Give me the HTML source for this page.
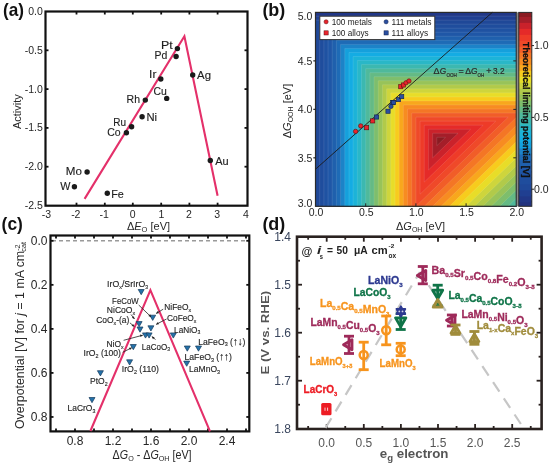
<!DOCTYPE html><html><head><meta charset="utf-8"><style>html,body{margin:0;padding:0;background:#fff;}svg{display:block;filter:blur(0.3px);}</style></head><body>
<svg width="550" height="467" viewBox="0 0 550 467" font-family='"Liberation Sans", sans-serif'>
<rect width="550" height="467" fill="#fff"/>
<defs><clipPath id="cb"><rect x="315.50" y="12.40" width="200.80" height="193.90"/></clipPath></defs>
<g clip-path="url(#cb)">
<rect x="315.5" y="12.4" width="200.79999999999995" height="193.9" fill="#223583"/>
<polygon points="307.13,12.08 307.13,521.39 834.57,12.08" fill="#213787" stroke="rgba(255,255,255,0.16)" stroke-width="0.7"/>
<polygon points="311.32,16.12 311.32,509.27 822.02,16.12" fill="#203f91" stroke="rgba(255,255,255,0.16)" stroke-width="0.7"/>
<polygon points="315.50,20.16 315.50,497.15 809.47,20.16" fill="#1f4898" stroke="rgba(255,255,255,0.16)" stroke-width="0.7"/>
<polygon points="319.68,24.20 319.68,485.03 796.92,24.20" fill="#1f4d9d" stroke="rgba(255,255,255,0.16)" stroke-width="0.7"/>
<polygon points="323.87,28.24 323.87,472.91 784.37,28.24" fill="#1f52a2" stroke="rgba(255,255,255,0.16)" stroke-width="0.7"/>
<polygon points="328.05,32.27 328.05,460.79 771.82,32.27" fill="#1f57a7" stroke="rgba(255,255,255,0.16)" stroke-width="0.7"/>
<polygon points="332.23,36.31 332.23,448.68 759.27,36.31" fill="#1f60ad" stroke="rgba(255,255,255,0.16)" stroke-width="0.7"/>
<polygon points="336.42,40.35 336.42,436.56 746.72,40.35" fill="#1e6bb6" stroke="rgba(255,255,255,0.16)" stroke-width="0.7"/>
<polygon points="340.60,44.39 340.60,424.44 734.17,44.39" fill="#1c83c8" stroke="rgba(255,255,255,0.16)" stroke-width="0.7"/>
<polygon points="344.78,48.43 344.78,412.32 721.62,48.43" fill="#15a0dc" stroke="rgba(255,255,255,0.16)" stroke-width="0.7"/>
<polygon points="348.97,52.47 348.97,400.20 709.07,52.47" fill="#14ace3" stroke="rgba(255,255,255,0.16)" stroke-width="0.7"/>
<polygon points="353.15,56.51 353.15,388.08 696.52,56.51" fill="#1cb3d8" stroke="rgba(255,255,255,0.16)" stroke-width="0.7"/>
<polygon points="357.33,60.55 357.33,375.96 683.97,60.55" fill="#2ab7c7" stroke="rgba(255,255,255,0.16)" stroke-width="0.7"/>
<polygon points="361.52,64.59 361.52,363.84 671.42,64.59" fill="#3cb8b0" stroke="rgba(255,255,255,0.16)" stroke-width="0.7"/>
<polygon points="365.70,68.63 365.70,351.73 658.87,68.63" fill="#4fb99b" stroke="rgba(255,255,255,0.16)" stroke-width="0.7"/>
<polygon points="369.88,72.67 369.88,339.61 646.32,72.67" fill="#64ba85" stroke="rgba(255,255,255,0.16)" stroke-width="0.7"/>
<polygon points="374.07,76.71 374.07,327.49 633.77,76.71" fill="#7ebe6c" stroke="rgba(255,255,255,0.16)" stroke-width="0.7"/>
<polygon points="378.25,80.75 378.25,315.37 621.22,80.75" fill="#98c359" stroke="rgba(255,255,255,0.16)" stroke-width="0.7"/>
<polygon points="382.43,84.79 382.43,303.25 608.67,84.79" fill="#b1ca4a" stroke="rgba(255,255,255,0.16)" stroke-width="0.7"/>
<polygon points="386.62,88.83 386.62,291.13 596.12,88.83" fill="#ced53c" stroke="rgba(255,255,255,0.16)" stroke-width="0.7"/>
<polygon points="390.80,92.87 390.80,279.01 583.57,92.87" fill="#e8dd28" stroke="rgba(255,255,255,0.16)" stroke-width="0.7"/>
<polygon points="394.98,96.91 394.98,266.89 571.02,96.91" fill="#f7cc1d" stroke="rgba(255,255,255,0.16)" stroke-width="0.7"/>
<polygon points="399.17,100.95 399.17,254.78 558.47,100.95" fill="#f8a71d" stroke="rgba(255,255,255,0.16)" stroke-width="0.7"/>
<polygon points="403.35,104.99 403.35,242.66 545.92,104.99" fill="#f78c21" stroke="rgba(255,255,255,0.16)" stroke-width="0.7"/>
<polygon points="407.53,109.03 407.53,230.54 533.37,109.03" fill="#f47625" stroke="rgba(255,255,255,0.16)" stroke-width="0.7"/>
<polygon points="411.72,113.07 411.72,218.42 520.82,113.07" fill="#f15d28" stroke="rgba(255,255,255,0.16)" stroke-width="0.7"/>
<polygon points="415.90,117.11 415.90,206.30 508.27,117.11" fill="#ef4929" stroke="rgba(255,255,255,0.16)" stroke-width="0.7"/>
<polygon points="420.08,121.15 420.08,194.18 495.72,121.15" fill="#ee3b28" stroke="rgba(255,255,255,0.16)" stroke-width="0.7"/>
<polygon points="424.27,125.19 424.27,182.06 483.17,125.19" fill="#e52a29" stroke="rgba(255,255,255,0.16)" stroke-width="0.7"/>
<polygon points="428.45,129.22 428.45,169.94 470.62,129.22" fill="#ca222b" stroke="rgba(255,255,255,0.16)" stroke-width="0.7"/>
<polygon points="432.63,133.26 432.63,157.83 458.07,133.26" fill="#a41e29" stroke="rgba(255,255,255,0.16)" stroke-width="0.7"/>
<polygon points="436.82,137.30 436.82,145.71 445.52,137.30" fill="#8a1b22" stroke="rgba(255,255,255,0.16)" stroke-width="0.7"/>
</g>
<rect x="315.5" y="12.4" width="200.79999999999995" height="193.9" fill="none" stroke="#2a2a2a" stroke-width="1.2"/>
<line x1="315.5" y1="169.2" x2="492.3" y2="12.4" stroke="#1a1a1a" stroke-width="0.9"/>
<rect x="364.5" y="125.60000000000001" width="4.2" height="4.2" fill="#e8242c" stroke="#5a1010" stroke-width="0.6"/>
<rect x="370.59999999999997" y="118.80000000000001" width="4.2" height="4.2" fill="#e8242c" stroke="#5a1010" stroke-width="0.6"/>
<rect x="398.7" y="84.60000000000001" width="4.2" height="4.2" fill="#e8242c" stroke="#5a1010" stroke-width="0.6"/>
<rect x="401.29999999999995" y="82.9" width="4.2" height="4.2" fill="#e8242c" stroke="#5a1010" stroke-width="0.6"/>
<rect x="374.5" y="114.9" width="4.2" height="4.2" fill="#2a4ea0" stroke="#10204a" stroke-width="0.6"/>
<rect x="385.9" y="109.10000000000001" width="4.2" height="4.2" fill="#2a4ea0" stroke="#10204a" stroke-width="0.6"/>
<rect x="390.59999999999997" y="100.60000000000001" width="4.2" height="4.2" fill="#2a4ea0" stroke="#10204a" stroke-width="0.6"/>
<rect x="391.5" y="100.30000000000001" width="4.2" height="4.2" fill="#2a4ea0" stroke="#10204a" stroke-width="0.6"/>
<rect x="396.4" y="97.5" width="4.2" height="4.2" fill="#2a4ea0" stroke="#10204a" stroke-width="0.6"/>
<rect x="399.59999999999997" y="94.5" width="4.2" height="4.2" fill="#2a4ea0" stroke="#10204a" stroke-width="0.6"/>
<circle cx="355.6" cy="131.4" r="2.2" fill="#e8242c" stroke="#5a1010" stroke-width="0.6"/>
<circle cx="360.7" cy="125.9" r="2.2" fill="#e8242c" stroke="#5a1010" stroke-width="0.6"/>
<circle cx="406" cy="82.8" r="2.2" fill="#e8242c" stroke="#5a1010" stroke-width="0.6"/>
<circle cx="409" cy="81" r="2.2" fill="#e8242c" stroke="#5a1010" stroke-width="0.6"/>
<circle cx="390.9" cy="106.4" r="2.2" fill="#2a4ea0" stroke="#10204a" stroke-width="0.6"/>
<rect x="319.8" y="16.2" width="115" height="23.4" fill="#fff" stroke="#333" stroke-width="1"/>
<circle cx="326.1" cy="21.8" r="2.1" fill="#e8242c" stroke="#5a1010" stroke-width="0.5"/>
<rect x="324" y="30.8" width="4.2" height="4.2" fill="#e8242c" stroke="#5a1010" stroke-width="0.5"/>
<circle cx="386.1" cy="21.8" r="2.1" fill="#2a4ea0" stroke="#10204a" stroke-width="0.5"/>
<rect x="384" y="30.8" width="4.2" height="4.2" fill="#2a4ea0" stroke="#10204a" stroke-width="0.5"/>
<text x="331.7" y="25" font-size="8.2" fill="#222" text-anchor="start" textLength="40.3" lengthAdjust="spacingAndGlyphs" >100 metals</text>
<text x="331.7" y="36" font-size="8.2" fill="#222" text-anchor="start" textLength="37" lengthAdjust="spacingAndGlyphs" >100 alloys</text>
<text x="391.6" y="25" font-size="8.2" fill="#222" text-anchor="start" textLength="40" lengthAdjust="spacingAndGlyphs" >111 metals</text>
<text x="391.6" y="36" font-size="8.2" fill="#222" text-anchor="start" textLength="36.5" lengthAdjust="spacingAndGlyphs" >111 alloys</text>
<text x="433.6" y="74.3" font-size="8.6" fill="#2a2a2a" stroke="#2a2a2a" stroke-width="0.2" textLength="6.0" lengthAdjust="spacingAndGlyphs">&#916;</text>
<text x="439.8" y="74.3" font-size="8.6" fill="#2a2a2a" stroke="#2a2a2a" stroke-width="0.2" font-style="italic" textLength="6.4" lengthAdjust="spacingAndGlyphs">G</text>
<text x="446.4" y="76.6" font-size="5.6" fill="#2a2a2a" stroke="#2a2a2a" stroke-width="0.2" textLength="10.4" lengthAdjust="spacingAndGlyphs">OOH</text>
<text x="458.6" y="73.8" font-size="8.6" fill="#2a2a2a" stroke="#2a2a2a" stroke-width="0.2" textLength="5.2" lengthAdjust="spacingAndGlyphs">=</text>
<text x="465.2" y="74.3" font-size="8.6" fill="#2a2a2a" stroke="#2a2a2a" stroke-width="0.2" textLength="5.8" lengthAdjust="spacingAndGlyphs">&#916;</text>
<text x="470.9" y="74.3" font-size="8.6" fill="#2a2a2a" stroke="#2a2a2a" stroke-width="0.2" font-style="italic" textLength="6.4" lengthAdjust="spacingAndGlyphs">G</text>
<text x="477.5" y="76.6" font-size="5.6" fill="#2a2a2a" stroke="#2a2a2a" stroke-width="0.2" textLength="6.6" lengthAdjust="spacingAndGlyphs">OH</text>
<text x="486.3" y="74.3" font-size="8.6" fill="#2a2a2a" stroke="#2a2a2a" stroke-width="0.2" textLength="5.2" lengthAdjust="spacingAndGlyphs">+</text>
<text x="493" y="74.3" font-size="8.6" fill="#2a2a2a" stroke="#2a2a2a" stroke-width="0.2" textLength="11.5" lengthAdjust="spacingAndGlyphs">3.2</text>
<line x1="365.7" y1="206.3" x2="365.7" y2="203.3" stroke="#222" stroke-width="1"/>
<line x1="415.9" y1="206.3" x2="415.9" y2="203.3" stroke="#222" stroke-width="1"/>
<line x1="466.09999999999997" y1="206.3" x2="466.09999999999997" y2="203.3" stroke="#222" stroke-width="1"/>
<line x1="313.3" y1="157.82500000000002" x2="315.5" y2="157.82500000000002" stroke="#222" stroke-width="1.2"/>
<line x1="516.3" y1="157.82500000000002" x2="513.3" y2="157.82500000000002" stroke="#222" stroke-width="1"/>
<line x1="313.3" y1="109.35000000000001" x2="315.5" y2="109.35000000000001" stroke="#222" stroke-width="1.2"/>
<line x1="516.3" y1="109.35000000000001" x2="513.3" y2="109.35000000000001" stroke="#222" stroke-width="1"/>
<line x1="313.3" y1="60.875" x2="315.5" y2="60.875" stroke="#222" stroke-width="1.2"/>
<line x1="516.3" y1="60.875" x2="513.3" y2="60.875" stroke="#222" stroke-width="1"/>
<text x="316.0" y="216.3" font-size="10.5" fill="#262626" text-anchor="middle" >0.0</text>
<text x="366.2" y="216.3" font-size="10.5" fill="#262626" text-anchor="middle" >0.5</text>
<text x="416.4" y="216.3" font-size="10.5" fill="#262626" text-anchor="middle" >1.0</text>
<text x="466.6" y="216.3" font-size="10.5" fill="#262626" text-anchor="middle" >1.5</text>
<text x="516.8" y="216.3" font-size="10.5" fill="#262626" text-anchor="middle" >2.0</text>
<text x="312.3" y="207.1" font-size="10.5" fill="#262626" text-anchor="end" >3.0</text>
<text x="312.3" y="161.63" font-size="10.5" fill="#262626" text-anchor="end" >3.5</text>
<text x="312.3" y="113.15" font-size="10.5" fill="#262626" text-anchor="end" >4.0</text>
<text x="312.3" y="64.67" font-size="10.5" fill="#262626" text-anchor="end" >4.5</text>
<text x="312.3" y="20.2" font-size="10.5" fill="#262626" text-anchor="end" >5.0</text>
<text x="396" y="230.3" font-size="11" fill="#262626">&#916;<tspan font-style="italic">G</tspan><tspan font-size="7" dy="2">OH</tspan><tspan dy="-2"> [eV]</tspan></text>
<text transform="translate(290.8,111) rotate(-90)" font-size="11" fill="#262626" text-anchor="middle">&#916;<tspan font-style="italic">G</tspan><tspan font-size="7" dy="2">OOH</tspan><tspan dy="-2"> [eV]</tspan></text>
<rect x="516.8" y="12.4" width="2" height="193.9" fill="#8a8a8a"/>
<rect x="518.8" y="201.17" width="13" height="5.13" fill="#22327e"/>
<rect x="518.8" y="195.18" width="13" height="7.18" fill="#213787"/>
<rect x="518.8" y="189.20" width="13" height="7.18" fill="#203f91"/>
<rect x="518.8" y="183.22" width="13" height="7.18" fill="#1f4898"/>
<rect x="518.8" y="177.23" width="13" height="7.18" fill="#1f4d9d"/>
<rect x="518.8" y="171.25" width="13" height="7.18" fill="#1f52a2"/>
<rect x="518.8" y="165.27" width="13" height="7.18" fill="#1f57a7"/>
<rect x="518.8" y="159.28" width="13" height="7.18" fill="#1f60ad"/>
<rect x="518.8" y="153.30" width="13" height="7.18" fill="#1e6bb6"/>
<rect x="518.8" y="147.32" width="13" height="7.18" fill="#1c83c8"/>
<rect x="518.8" y="141.33" width="13" height="7.18" fill="#15a0dc"/>
<rect x="518.8" y="135.35" width="13" height="7.18" fill="#14ace3"/>
<rect x="518.8" y="129.37" width="13" height="7.18" fill="#1cb3d8"/>
<rect x="518.8" y="123.38" width="13" height="7.18" fill="#2ab7c7"/>
<rect x="518.8" y="117.40" width="13" height="7.18" fill="#3cb8b0"/>
<rect x="518.8" y="111.42" width="13" height="7.18" fill="#4fb99b"/>
<rect x="518.8" y="105.43" width="13" height="7.18" fill="#64ba85"/>
<rect x="518.8" y="99.45" width="13" height="7.18" fill="#7ebe6c"/>
<rect x="518.8" y="93.47" width="13" height="7.18" fill="#98c359"/>
<rect x="518.8" y="87.48" width="13" height="7.18" fill="#b1ca4a"/>
<rect x="518.8" y="81.50" width="13" height="7.18" fill="#ced53c"/>
<rect x="518.8" y="75.52" width="13" height="7.18" fill="#e8dd28"/>
<rect x="518.8" y="69.53" width="13" height="7.18" fill="#f7cc1d"/>
<rect x="518.8" y="63.55" width="13" height="7.18" fill="#f8a71d"/>
<rect x="518.8" y="57.57" width="13" height="7.18" fill="#f78c21"/>
<rect x="518.8" y="51.58" width="13" height="7.18" fill="#f47625"/>
<rect x="518.8" y="45.60" width="13" height="7.18" fill="#f15d28"/>
<rect x="518.8" y="39.62" width="13" height="7.18" fill="#ef4929"/>
<rect x="518.8" y="33.63" width="13" height="7.18" fill="#ee3b28"/>
<rect x="518.8" y="27.65" width="13" height="7.18" fill="#e52a29"/>
<rect x="518.8" y="21.67" width="13" height="7.18" fill="#ca222b"/>
<rect x="518.8" y="15.68" width="13" height="7.18" fill="#a41e29"/>
<rect x="518.8" y="12.40" width="13" height="4.48" fill="#8a1b22"/>
<rect x="518.8" y="12.4" width="13" height="193.9" fill="none" stroke="#2a2a2a" stroke-width="1"/>
<line x1="531.8" y1="189.2" x2="534" y2="189.2" stroke="#222" stroke-width="1"/>
<text x="534" y="193.0" font-size="10.5" fill="#262626" text-anchor="start" >0.0</text>
<line x1="531.8" y1="117.39999999999999" x2="534" y2="117.39999999999999" stroke="#222" stroke-width="1"/>
<text x="534" y="121.2" font-size="10.5" fill="#262626" text-anchor="start" >0.5</text>
<line x1="531.8" y1="45.599999999999994" x2="534" y2="45.599999999999994" stroke="#222" stroke-width="1"/>
<text x="534" y="49.4" font-size="10.5" fill="#262626" text-anchor="start" >1.0</text>
<text transform="translate(522.6,109.8) rotate(90)" font-size="9.2" font-weight="bold" fill="#111" stroke="#111" stroke-width="0.35" text-anchor="middle" textLength="135.5" lengthAdjust="spacingAndGlyphs">Theoretical limiting potential [V]</text>
<text x="262.4" y="15.8" font-size="18.5" fill="#111" text-anchor="start" font-weight="bold" textLength="22.9" lengthAdjust="spacingAndGlyphs" >(b)</text>
<rect x="45.5" y="11.5" width="202.0" height="194.2" fill="none" stroke="#111" stroke-width="2.2"/>
<line x1="76.5" y1="205.7" x2="76.5" y2="202.7" stroke="#111" stroke-width="1.8"/>
<line x1="76.5" y1="11.5" x2="76.5" y2="14.5" stroke="#111" stroke-width="1.8"/>
<line x1="104.8" y1="205.7" x2="104.8" y2="202.7" stroke="#111" stroke-width="1.8"/>
<line x1="104.8" y1="11.5" x2="104.8" y2="14.5" stroke="#111" stroke-width="1.8"/>
<line x1="132.8" y1="205.7" x2="132.8" y2="202.7" stroke="#111" stroke-width="1.8"/>
<line x1="132.8" y1="11.5" x2="132.8" y2="14.5" stroke="#111" stroke-width="1.8"/>
<line x1="161.2" y1="205.7" x2="161.2" y2="202.7" stroke="#111" stroke-width="1.8"/>
<line x1="161.2" y1="11.5" x2="161.2" y2="14.5" stroke="#111" stroke-width="1.8"/>
<line x1="189.4" y1="205.7" x2="189.4" y2="202.7" stroke="#111" stroke-width="1.8"/>
<line x1="189.4" y1="11.5" x2="189.4" y2="14.5" stroke="#111" stroke-width="1.8"/>
<line x1="217.6" y1="205.7" x2="217.6" y2="202.7" stroke="#111" stroke-width="1.8"/>
<line x1="217.6" y1="11.5" x2="217.6" y2="14.5" stroke="#111" stroke-width="1.8"/>
<line x1="45.5" y1="50.3" x2="48.5" y2="50.3" stroke="#111" stroke-width="1.8"/>
<line x1="247.5" y1="50.3" x2="244.5" y2="50.3" stroke="#111" stroke-width="1.8"/>
<line x1="45.5" y1="89.1" x2="48.5" y2="89.1" stroke="#111" stroke-width="1.8"/>
<line x1="247.5" y1="89.1" x2="244.5" y2="89.1" stroke="#111" stroke-width="1.8"/>
<line x1="45.5" y1="127.9" x2="48.5" y2="127.9" stroke="#111" stroke-width="1.8"/>
<line x1="247.5" y1="127.9" x2="244.5" y2="127.9" stroke="#111" stroke-width="1.8"/>
<line x1="45.5" y1="166.7" x2="48.5" y2="166.7" stroke="#111" stroke-width="1.8"/>
<line x1="247.5" y1="166.7" x2="244.5" y2="166.7" stroke="#111" stroke-width="1.8"/>
<text x="42.8" y="15.2" font-size="10.5" fill="#262626" text-anchor="end" >0.0</text>
<text x="42.8" y="54.0" font-size="10.5" fill="#262626" text-anchor="end" >-0.5</text>
<text x="42.8" y="93.10000000000001" font-size="10.5" fill="#262626" text-anchor="end" >-1.0</text>
<text x="42.8" y="131.4" font-size="10.5" fill="#262626" text-anchor="end" >-1.5</text>
<text x="42.8" y="169.89999999999998" font-size="10.5" fill="#262626" text-anchor="end" >-2.0</text>
<text x="42.8" y="208.5" font-size="10.5" fill="#262626" text-anchor="end" >-2.5</text>
<text x="46.4" y="218.3" font-size="10.5" fill="#262626" text-anchor="middle" >-3</text>
<text x="75.8" y="218.3" font-size="10.5" fill="#262626" text-anchor="middle" >-2</text>
<text x="104.2" y="218.3" font-size="10.5" fill="#262626" text-anchor="middle" >-1</text>
<text x="132.7" y="218.3" font-size="10.5" fill="#262626" text-anchor="middle" >0</text>
<text x="161.3" y="218.3" font-size="10.5" fill="#262626" text-anchor="middle" >1</text>
<text x="189" y="218.3" font-size="10.5" fill="#262626" text-anchor="middle" >2</text>
<text x="217.2" y="218.3" font-size="10.5" fill="#262626" text-anchor="middle" >3</text>
<text x="246" y="218.3" font-size="10.5" fill="#262626" text-anchor="middle" >4</text>
<text x="126.9" y="230" font-size="11" fill="#262626">&#916;<tspan font-style="italic">E</tspan><tspan font-size="7.5" dy="2">O</tspan><tspan dy="-2"> [eV]</tspan></text>
<text transform="translate(20.6,111.6) rotate(-90)" x="0" y="0" font-size="11" fill="#262626" text-anchor="middle">Activity</text>
<text x="3" y="15.6" font-size="18.5" fill="#111" text-anchor="start" font-weight="bold" textLength="21" lengthAdjust="spacingAndGlyphs" >(a)</text>
<polyline points="84.6,198.9 184.4,36.2 217.6,195.7" fill="none" stroke="#e4306a" stroke-width="2.1"/>
<circle cx="177.4" cy="48.6" r="2.7" fill="#1a1a1a"/>
<circle cx="176.1" cy="56.5" r="2.7" fill="#1a1a1a"/>
<circle cx="160.8" cy="79" r="2.7" fill="#1a1a1a"/>
<circle cx="192.7" cy="75" r="2.7" fill="#1a1a1a"/>
<circle cx="145.3" cy="100.1" r="2.7" fill="#1a1a1a"/>
<circle cx="166.7" cy="98.4" r="2.7" fill="#1a1a1a"/>
<circle cx="142.1" cy="116.8" r="2.7" fill="#1a1a1a"/>
<circle cx="131.6" cy="126.8" r="2.7" fill="#1a1a1a"/>
<circle cx="126.4" cy="132.7" r="2.7" fill="#1a1a1a"/>
<circle cx="87.1" cy="172" r="2.7" fill="#1a1a1a"/>
<circle cx="74.4" cy="186.7" r="2.7" fill="#1a1a1a"/>
<circle cx="107.3" cy="193.2" r="2.7" fill="#1a1a1a"/>
<circle cx="210.3" cy="160.5" r="2.7" fill="#1a1a1a"/>
<text x="161.1" y="48.8" font-size="11.8" fill="#1e1e1e" text-anchor="start" textLength="11.7" lengthAdjust="spacingAndGlyphs" stroke="#1e1e1e" stroke-width="0.15">Pt</text>
<text x="154.5" y="59.1" font-size="11.8" fill="#1e1e1e" text-anchor="start" textLength="12.8" lengthAdjust="spacingAndGlyphs" stroke="#1e1e1e" stroke-width="0.15">Pd</text>
<text x="149.1" y="78.1" font-size="11.8" fill="#1e1e1e" text-anchor="start" textLength="7.3" lengthAdjust="spacingAndGlyphs" stroke="#1e1e1e" stroke-width="0.15">Ir</text>
<text x="197.1" y="79.4" font-size="11.8" fill="#1e1e1e" text-anchor="start" textLength="13.9" lengthAdjust="spacingAndGlyphs" stroke="#1e1e1e" stroke-width="0.15">Ag</text>
<text x="153.4" y="95.1" font-size="11.8" fill="#1e1e1e" text-anchor="start" textLength="13.3" lengthAdjust="spacingAndGlyphs" stroke="#1e1e1e" stroke-width="0.15">Cu</text>
<text x="126.6" y="102.7" font-size="11.8" fill="#1e1e1e" text-anchor="start" textLength="13.4" lengthAdjust="spacingAndGlyphs" stroke="#1e1e1e" stroke-width="0.15">Rh</text>
<text x="146.5" y="120.9" font-size="11.8" fill="#1e1e1e" text-anchor="start" textLength="10.6" lengthAdjust="spacingAndGlyphs" stroke="#1e1e1e" stroke-width="0.15">Ni</text>
<text x="113.19999999999999" y="125.8" font-size="11.8" fill="#1e1e1e" text-anchor="start" textLength="12.8" lengthAdjust="spacingAndGlyphs" stroke="#1e1e1e" stroke-width="0.15">Ru</text>
<text x="107.19999999999999" y="136.2" font-size="11.8" fill="#1e1e1e" text-anchor="start" textLength="13.4" lengthAdjust="spacingAndGlyphs" stroke="#1e1e1e" stroke-width="0.15">Co</text>
<text x="65.8" y="175.3" font-size="11.8" fill="#1e1e1e" text-anchor="start" textLength="16.1" lengthAdjust="spacingAndGlyphs" stroke="#1e1e1e" stroke-width="0.15">Mo</text>
<text x="60.300000000000004" y="190.1" font-size="11.8" fill="#1e1e1e" text-anchor="start" textLength="10.2" lengthAdjust="spacingAndGlyphs" stroke="#1e1e1e" stroke-width="0.15">W</text>
<text x="111.19999999999999" y="197.5" font-size="11.8" fill="#1e1e1e" text-anchor="start" textLength="12.6" lengthAdjust="spacingAndGlyphs" stroke="#1e1e1e" stroke-width="0.15">Fe</text>
<text x="215.2" y="164.7" font-size="11.8" fill="#1e1e1e" text-anchor="start" textLength="13.4" lengthAdjust="spacingAndGlyphs" stroke="#1e1e1e" stroke-width="0.15">Au</text>
<rect x="50.5" y="235.5" width="198.8" height="195.89999999999998" fill="none" stroke="#111" stroke-width="2.2"/>
<line x1="52.0" y1="240.8" x2="247.8" y2="240.8" stroke="#9a9a9a" stroke-width="1.6" stroke-dasharray="4,3"/>
<line x1="56.00" y1="431.4" x2="56.00" y2="428.4" stroke="#111" stroke-width="1.8"/>
<line x1="56.00" y1="235.5" x2="56.00" y2="238.5" stroke="#111" stroke-width="1.8"/>
<line x1="75.00" y1="431.4" x2="75.00" y2="428.4" stroke="#111" stroke-width="1.8"/>
<line x1="75.00" y1="235.5" x2="75.00" y2="238.5" stroke="#111" stroke-width="1.8"/>
<line x1="94.00" y1="431.4" x2="94.00" y2="428.4" stroke="#111" stroke-width="1.8"/>
<line x1="94.00" y1="235.5" x2="94.00" y2="238.5" stroke="#111" stroke-width="1.8"/>
<line x1="113.00" y1="431.4" x2="113.00" y2="428.4" stroke="#111" stroke-width="1.8"/>
<line x1="113.00" y1="235.5" x2="113.00" y2="238.5" stroke="#111" stroke-width="1.8"/>
<line x1="132.00" y1="431.4" x2="132.00" y2="428.4" stroke="#111" stroke-width="1.8"/>
<line x1="132.00" y1="235.5" x2="132.00" y2="238.5" stroke="#111" stroke-width="1.8"/>
<line x1="151.00" y1="431.4" x2="151.00" y2="428.4" stroke="#111" stroke-width="1.8"/>
<line x1="151.00" y1="235.5" x2="151.00" y2="238.5" stroke="#111" stroke-width="1.8"/>
<line x1="170.00" y1="431.4" x2="170.00" y2="428.4" stroke="#111" stroke-width="1.8"/>
<line x1="170.00" y1="235.5" x2="170.00" y2="238.5" stroke="#111" stroke-width="1.8"/>
<line x1="189.00" y1="431.4" x2="189.00" y2="428.4" stroke="#111" stroke-width="1.8"/>
<line x1="189.00" y1="235.5" x2="189.00" y2="238.5" stroke="#111" stroke-width="1.8"/>
<line x1="208.00" y1="431.4" x2="208.00" y2="428.4" stroke="#111" stroke-width="1.8"/>
<line x1="208.00" y1="235.5" x2="208.00" y2="238.5" stroke="#111" stroke-width="1.8"/>
<line x1="227.00" y1="431.4" x2="227.00" y2="428.4" stroke="#111" stroke-width="1.8"/>
<line x1="227.00" y1="235.5" x2="227.00" y2="238.5" stroke="#111" stroke-width="1.8"/>
<line x1="246.00" y1="431.4" x2="246.00" y2="428.4" stroke="#111" stroke-width="1.8"/>
<line x1="246.00" y1="235.5" x2="246.00" y2="238.5" stroke="#111" stroke-width="1.8"/>
<line x1="50.5" y1="240.80" x2="53.5" y2="240.80" stroke="#111" stroke-width="1.8"/>
<line x1="249.3" y1="240.80" x2="246.3" y2="240.80" stroke="#111" stroke-width="1.8"/>
<text x="47.5" y="245.1" font-size="12" fill="#262626" text-anchor="end" >0.0</text>
<line x1="50.5" y1="284.84" x2="53.5" y2="284.84" stroke="#111" stroke-width="1.8"/>
<line x1="249.3" y1="284.84" x2="246.3" y2="284.84" stroke="#111" stroke-width="1.8"/>
<text x="47.5" y="289.14" font-size="12" fill="#262626" text-anchor="end" >0.2</text>
<line x1="50.5" y1="328.88" x2="53.5" y2="328.88" stroke="#111" stroke-width="1.8"/>
<line x1="249.3" y1="328.88" x2="246.3" y2="328.88" stroke="#111" stroke-width="1.8"/>
<text x="47.5" y="333.18" font-size="12" fill="#262626" text-anchor="end" >0.4</text>
<line x1="50.5" y1="372.92" x2="53.5" y2="372.92" stroke="#111" stroke-width="1.8"/>
<line x1="249.3" y1="372.92" x2="246.3" y2="372.92" stroke="#111" stroke-width="1.8"/>
<text x="47.5" y="377.22" font-size="12" fill="#262626" text-anchor="end" >0.6</text>
<line x1="50.5" y1="416.96" x2="53.5" y2="416.96" stroke="#111" stroke-width="1.8"/>
<line x1="249.3" y1="416.96" x2="246.3" y2="416.96" stroke="#111" stroke-width="1.8"/>
<text x="47.5" y="421.26" font-size="12" fill="#262626" text-anchor="end" >0.8</text>
<text x="75.0" y="444.6" font-size="12" fill="#262626" text-anchor="middle" >0.8</text>
<text x="113.0" y="444.6" font-size="12" fill="#262626" text-anchor="middle" >1.2</text>
<text x="151.0" y="444.6" font-size="12" fill="#262626" text-anchor="middle" >1.6</text>
<text x="189.0" y="444.6" font-size="12" fill="#262626" text-anchor="middle" >2.0</text>
<text x="227.0" y="444.6" font-size="12" fill="#262626" text-anchor="middle" >2.4</text>
<text x="112.6" y="458.5" font-size="12" fill="#262626" textLength="79" lengthAdjust="spacingAndGlyphs">&#916;<tspan font-style="italic">G</tspan><tspan font-size="8" dy="2">O</tspan><tspan dy="-2"> - &#916;</tspan><tspan font-style="italic">G</tspan><tspan font-size="8" dy="2">OH</tspan><tspan dy="-2"> [eV]</tspan></text>
<text transform="translate(24.2,429) rotate(-90)" font-size="12" fill="#2a2a2a" textLength="187" lengthAdjust="spacingAndGlyphs">Overpotential [V] for <tspan font-style="italic">j</tspan> = 1 mA cm<tspan font-size="7" dy="-4">-2</tspan><tspan font-size="7" dx="-7" dy="6">cat</tspan></text>
<text x="1.6" y="229.6" font-size="18.5" fill="#111" text-anchor="start" font-weight="bold" textLength="21.3" lengthAdjust="spacingAndGlyphs" >(c)</text>
<polyline points="90.4,431 150.4,290.2 210,431.4" fill="none" stroke="#e4306a" stroke-width="2.1"/>
<polygon points="138.20,289.50 144.20,289.50 141.20,294.70" fill="#2472aa" stroke="#163a5a" stroke-width="0.7"/>
<polygon points="149.70,315.20 155.70,315.20 152.70,320.40" fill="#2472aa" stroke="#163a5a" stroke-width="0.7"/>
<polygon points="136.10,321.60 142.10,321.60 139.10,326.80" fill="#2472aa" stroke="#163a5a" stroke-width="0.7"/>
<polygon points="137.00,327.00 143.00,327.00 140.00,332.20" fill="#2472aa" stroke="#163a5a" stroke-width="0.7"/>
<polygon points="147.90,325.80 153.90,325.80 150.90,331.00" fill="#2472aa" stroke="#163a5a" stroke-width="0.7"/>
<polygon points="142.50,332.90 148.50,332.90 145.50,338.10" fill="#2472aa" stroke="#163a5a" stroke-width="0.7"/>
<polygon points="146.10,332.90 152.10,332.90 149.10,338.10" fill="#2472aa" stroke="#163a5a" stroke-width="0.7"/>
<polygon points="170.30,332.90 176.30,332.90 173.30,338.10" fill="#2472aa" stroke="#163a5a" stroke-width="0.7"/>
<polygon points="130.30,344.50 136.30,344.50 133.30,349.70" fill="#2472aa" stroke="#163a5a" stroke-width="0.7"/>
<polygon points="126.60,359.80 132.60,359.80 129.60,365.00" fill="#2472aa" stroke="#163a5a" stroke-width="0.7"/>
<polygon points="97.40,370.70 103.40,370.70 100.40,375.90" fill="#2472aa" stroke="#163a5a" stroke-width="0.7"/>
<polygon points="89.00,397.50 95.00,397.50 92.00,402.70" fill="#2472aa" stroke="#163a5a" stroke-width="0.7"/>
<polygon points="184.30,346.00 190.30,346.00 187.30,351.20" fill="#2472aa" stroke="#163a5a" stroke-width="0.7"/>
<polygon points="195.50,346.00 201.50,346.00 198.50,351.20" fill="#2472aa" stroke="#163a5a" stroke-width="0.7"/>
<polygon points="183.70,361.10 189.70,361.10 186.70,366.30" fill="#2472aa" stroke="#163a5a" stroke-width="0.7"/>
<text x="107.1" y="287.4" font-size="9.8" fill="#242424" stroke="#242424" stroke-width="0.15" textLength="40.9" lengthAdjust="spacingAndGlyphs">IrO<tspan font-size="6.1" dy="1.8">x</tspan><tspan dy="-1.8">/SrIrO<tspan font-size="5.7" dy="1.8">3</tspan></tspan></text>
<text x="112.1" y="304.2" font-size="9.8" fill="#242424" stroke="#242424" stroke-width="0.15" textLength="26.6" lengthAdjust="spacingAndGlyphs">FeCoW</text>
<text x="106.8" y="312.7" font-size="9.8" fill="#242424" stroke="#242424" stroke-width="0.15" textLength="28.4" lengthAdjust="spacingAndGlyphs">NiCoO<tspan font-size="6.1" dy="1.8">x</tspan></text>
<text x="96.2" y="323.4" font-size="9.8" fill="#242424" stroke="#242424" stroke-width="0.15" textLength="33.1" lengthAdjust="spacingAndGlyphs">CoO<tspan font-size="6.1" dy="1.8">x</tspan><tspan dy="-1.8">-(a)</tspan></text>
<text x="164.3" y="309.7" font-size="9.8" fill="#242424" stroke="#242424" stroke-width="0.15" textLength="26.7" lengthAdjust="spacingAndGlyphs">NiFeO<tspan font-size="6.1" dy="1.8">x</tspan></text>
<text x="167" y="321.2" font-size="9.8" fill="#242424" stroke="#242424" stroke-width="0.15" textLength="29.4" lengthAdjust="spacingAndGlyphs">CoFeO<tspan font-size="6.1" dy="1.8">x</tspan></text>
<text x="174.1" y="332.6" font-size="9.8" fill="#242424" stroke="#242424" stroke-width="0.15" textLength="26.2" lengthAdjust="spacingAndGlyphs">LaNiO<tspan font-size="6.1" dy="1.8">3</tspan></text>
<text x="106.4" y="346.8" font-size="9.8" fill="#242424" stroke="#242424" stroke-width="0.15" textLength="17.2" lengthAdjust="spacingAndGlyphs">NiO<tspan font-size="6.1" dy="1.8">x</tspan></text>
<text x="141.8" y="349.5" font-size="9.8" fill="#242424" stroke="#242424" stroke-width="0.15" textLength="28.2" lengthAdjust="spacingAndGlyphs">LaCoO<tspan font-size="6.1" dy="1.8">3</tspan></text>
<text x="83.6" y="355.9" font-size="9.8" fill="#242424" stroke="#242424" stroke-width="0.15" textLength="37.4" lengthAdjust="spacingAndGlyphs">IrO<tspan font-size="6.1" dy="1.8">2</tspan><tspan dy="-1.8"> (100)</tspan></text>
<text x="121.8" y="372.3" font-size="9.8" fill="#242424" stroke="#242424" stroke-width="0.15" textLength="37.2" lengthAdjust="spacingAndGlyphs">IrO<tspan font-size="6.1" dy="1.8">2</tspan><tspan dy="-1.8"> (110)</tspan></text>
<text x="90" y="384" font-size="9.8" fill="#242424" stroke="#242424" stroke-width="0.15" textLength="17.6" lengthAdjust="spacingAndGlyphs">PtO<tspan font-size="6.1" dy="1.8">2</tspan></text>
<text x="67.6" y="411.3" font-size="9.8" fill="#242424" stroke="#242424" stroke-width="0.15" textLength="27.7" lengthAdjust="spacingAndGlyphs">LaCrO<tspan font-size="6.1" dy="1.8">3</tspan></text>
<text x="198.2" y="344.5" font-size="9.8" fill="#242424" stroke="#242424" stroke-width="0.15" textLength="47.3" lengthAdjust="spacingAndGlyphs">LaFeO<tspan font-size="6.1" dy="1.8">3</tspan><tspan dy="-1.8"> (<tspan font-size="11">&#8593;&#8595;</tspan>)</tspan></text>
<text x="184.5" y="360" font-size="9.8" fill="#242424" stroke="#242424" stroke-width="0.15" textLength="47.3" lengthAdjust="spacingAndGlyphs">LaFeO<tspan font-size="6.1" dy="1.8">3</tspan><tspan dy="-1.8"> (<tspan font-size="11">&#8593;&#8593;</tspan>)</tspan></text>
<text x="189" y="371.8" font-size="9.8" fill="#242424" stroke="#242424" stroke-width="0.15" textLength="31.0" lengthAdjust="spacingAndGlyphs">LaMnO<tspan font-size="6.1" dy="1.8">3</tspan></text>
<line x1="138.7" y1="305" x2="151.1" y2="316.9" stroke="#222" stroke-width="0.8"/>
<polygon points="151.1,316.9 150.12,314.16 148.32,316.04" fill="#222"/>
<line x1="163.2" y1="309.2" x2="156.1" y2="313.5" stroke="#222" stroke-width="0.8"/>
<polygon points="156.1,313.5 159.00,313.27 157.65,311.04" fill="#222"/>
<line x1="131" y1="314.5" x2="134.5" y2="319" stroke="#222" stroke-width="0.8"/>
<polygon points="134.5,319 133.93,316.15 131.88,317.75" fill="#222"/>
<line x1="129.9" y1="322.8" x2="134.3" y2="326.6" stroke="#222" stroke-width="0.8"/>
<polygon points="134.3,326.6 133.18,323.92 131.48,325.88" fill="#222"/>
<line x1="166.5" y1="319" x2="156.1" y2="324.4" stroke="#222" stroke-width="0.8"/>
<polygon points="156.1,324.4 159.01,324.36 157.81,322.05" fill="#222"/>
<line x1="123.6" y1="340.3" x2="142.8" y2="335.2" stroke="#222" stroke-width="0.8"/>
<polygon points="142.8,335.2 139.95,334.61 140.62,337.12" fill="#222"/>
<line x1="155.5" y1="339.5" x2="151.8" y2="336.5" stroke="#222" stroke-width="0.8"/>
<polygon points="151.8,336.5 153.00,339.15 154.64,337.13" fill="#222"/>
<line x1="122.7" y1="352.3" x2="131.8" y2="347.7" stroke="#222" stroke-width="0.8"/>
<polygon points="131.8,347.7 128.89,347.71 130.07,350.03" fill="#222"/>
<rect x="297" y="236.7" width="244.60000000000002" height="192.3" fill="none" stroke="#2a2220" stroke-width="2.6"/>
<line x1="308.15" y1="429" x2="308.15" y2="426" stroke="#2a2220" stroke-width="1.8"/>
<line x1="308.15" y1="236.7" x2="308.15" y2="239.7" stroke="#2a2220" stroke-width="1.8"/>
<line x1="326.70" y1="429" x2="326.70" y2="424" stroke="#2a2220" stroke-width="1.8"/>
<line x1="326.70" y1="236.7" x2="326.70" y2="241.7" stroke="#2a2220" stroke-width="1.8"/>
<line x1="345.25" y1="429" x2="345.25" y2="426" stroke="#2a2220" stroke-width="1.8"/>
<line x1="345.25" y1="236.7" x2="345.25" y2="239.7" stroke="#2a2220" stroke-width="1.8"/>
<line x1="363.80" y1="429" x2="363.80" y2="424" stroke="#2a2220" stroke-width="1.8"/>
<line x1="363.80" y1="236.7" x2="363.80" y2="241.7" stroke="#2a2220" stroke-width="1.8"/>
<line x1="382.35" y1="429" x2="382.35" y2="426" stroke="#2a2220" stroke-width="1.8"/>
<line x1="382.35" y1="236.7" x2="382.35" y2="239.7" stroke="#2a2220" stroke-width="1.8"/>
<line x1="400.90" y1="429" x2="400.90" y2="424" stroke="#2a2220" stroke-width="1.8"/>
<line x1="400.90" y1="236.7" x2="400.90" y2="241.7" stroke="#2a2220" stroke-width="1.8"/>
<line x1="419.45" y1="429" x2="419.45" y2="426" stroke="#2a2220" stroke-width="1.8"/>
<line x1="419.45" y1="236.7" x2="419.45" y2="239.7" stroke="#2a2220" stroke-width="1.8"/>
<line x1="438.00" y1="429" x2="438.00" y2="424" stroke="#2a2220" stroke-width="1.8"/>
<line x1="438.00" y1="236.7" x2="438.00" y2="241.7" stroke="#2a2220" stroke-width="1.8"/>
<line x1="456.55" y1="429" x2="456.55" y2="426" stroke="#2a2220" stroke-width="1.8"/>
<line x1="456.55" y1="236.7" x2="456.55" y2="239.7" stroke="#2a2220" stroke-width="1.8"/>
<line x1="475.10" y1="429" x2="475.10" y2="424" stroke="#2a2220" stroke-width="1.8"/>
<line x1="475.10" y1="236.7" x2="475.10" y2="241.7" stroke="#2a2220" stroke-width="1.8"/>
<line x1="493.65" y1="429" x2="493.65" y2="426" stroke="#2a2220" stroke-width="1.8"/>
<line x1="493.65" y1="236.7" x2="493.65" y2="239.7" stroke="#2a2220" stroke-width="1.8"/>
<line x1="512.20" y1="429" x2="512.20" y2="424" stroke="#2a2220" stroke-width="1.8"/>
<line x1="512.20" y1="236.7" x2="512.20" y2="241.7" stroke="#2a2220" stroke-width="1.8"/>
<line x1="530.75" y1="429" x2="530.75" y2="426" stroke="#2a2220" stroke-width="1.8"/>
<line x1="530.75" y1="236.7" x2="530.75" y2="239.7" stroke="#2a2220" stroke-width="1.8"/>
<line x1="297" y1="260.70" x2="300" y2="260.70" stroke="#2a2220" stroke-width="1.8"/>
<line x1="541.6" y1="260.70" x2="538.6" y2="260.70" stroke="#2a2220" stroke-width="1.8"/>
<line x1="297" y1="284.70" x2="302" y2="284.70" stroke="#2a2220" stroke-width="1.8"/>
<line x1="541.6" y1="284.70" x2="536.6" y2="284.70" stroke="#2a2220" stroke-width="1.8"/>
<line x1="297" y1="308.70" x2="300" y2="308.70" stroke="#2a2220" stroke-width="1.8"/>
<line x1="541.6" y1="308.70" x2="538.6" y2="308.70" stroke="#2a2220" stroke-width="1.8"/>
<line x1="297" y1="332.70" x2="302" y2="332.70" stroke="#2a2220" stroke-width="1.8"/>
<line x1="541.6" y1="332.70" x2="536.6" y2="332.70" stroke="#2a2220" stroke-width="1.8"/>
<line x1="297" y1="356.70" x2="300" y2="356.70" stroke="#2a2220" stroke-width="1.8"/>
<line x1="541.6" y1="356.70" x2="538.6" y2="356.70" stroke="#2a2220" stroke-width="1.8"/>
<line x1="297" y1="380.70" x2="302" y2="380.70" stroke="#2a2220" stroke-width="1.8"/>
<line x1="541.6" y1="380.70" x2="536.6" y2="380.70" stroke="#2a2220" stroke-width="1.8"/>
<line x1="297" y1="404.70" x2="300" y2="404.70" stroke="#2a2220" stroke-width="1.8"/>
<line x1="541.6" y1="404.70" x2="538.6" y2="404.70" stroke="#2a2220" stroke-width="1.8"/>
<text x="291" y="241.1" font-size="12" fill="#3a465e" text-anchor="end" >1.4</text>
<text x="291" y="289.1" font-size="12" fill="#3a465e" text-anchor="end" >1.5</text>
<text x="291" y="337.1" font-size="12" fill="#3a465e" text-anchor="end" >1.6</text>
<text x="291" y="385.1" font-size="12" fill="#3a465e" text-anchor="end" >1.7</text>
<text x="291" y="433.1" font-size="12" fill="#3a465e" text-anchor="end" >1.8</text>
<text x="326.7" y="446.8" font-size="12" fill="#555" text-anchor="middle" >0.0</text>
<text x="363.8" y="446.8" font-size="12" fill="#555" text-anchor="middle" >0.5</text>
<text x="400.9" y="446.8" font-size="12" fill="#555" text-anchor="middle" >1.0</text>
<text x="438.0" y="446.8" font-size="12" fill="#555" text-anchor="middle" >1.5</text>
<text x="475.1" y="446.8" font-size="12" fill="#555" text-anchor="middle" >2.0</text>
<text x="512.2" y="446.8" font-size="12" fill="#555" text-anchor="middle" >2.5</text>
<text x="379.8" y="457.8" font-size="12.5" font-weight="bold" fill="#555" textLength="68.7" lengthAdjust="spacingAndGlyphs">e<tspan font-size="9" dy="3">g</tspan><tspan dy="-3"> electron</tspan></text>
<text transform="translate(268.6,332.7) rotate(-90)" font-size="11.6" font-weight="bold" fill="#555" text-anchor="middle" textLength="83.6" lengthAdjust="spacingAndGlyphs">E (V vs. RHE)</text>
<text x="262.4" y="230.2" font-size="18.5" fill="#111" text-anchor="start" font-weight="bold" textLength="22.9" lengthAdjust="spacingAndGlyphs" >(d)</text>
<text x="301.6" y="255" font-size="11.5" font-weight="bold" fill="#222" textLength="10.9" lengthAdjust="spacingAndGlyphs">@</text>
<text x="317" y="254.4" font-size="11.2" font-weight="bold" fill="#222" font-style="italic" textLength="4.2" lengthAdjust="spacingAndGlyphs">i</text>
<text x="319.8" y="258.8" font-size="6.5" font-weight="bold" fill="#222" textLength="3.2" lengthAdjust="spacingAndGlyphs">s</text>
<text x="327" y="254" font-size="11.2" font-weight="bold" fill="#222" textLength="6" lengthAdjust="spacingAndGlyphs">=</text>
<text x="336.6" y="254" font-size="11.2" font-weight="bold" fill="#222" textLength="11.4" lengthAdjust="spacingAndGlyphs">50</text>
<text x="354.1" y="254" font-size="11.2" font-weight="bold" fill="#222" textLength="13.7" lengthAdjust="spacingAndGlyphs">&#956;A</text>
<text x="371.6" y="254" font-size="11.2" font-weight="bold" fill="#222" textLength="16.1" lengthAdjust="spacingAndGlyphs">cm</text>
<text x="388.6" y="247.8" font-size="6" font-weight="bold" fill="#222" textLength="5.7" lengthAdjust="spacingAndGlyphs">-2</text>
<text x="388.6" y="258.4" font-size="7" font-weight="bold" fill="#222" textLength="7.6" lengthAdjust="spacingAndGlyphs">ox</text>
<line x1="325.5" y1="428" x2="419.9" y2="272.1" stroke="#c6c6c6" stroke-width="2.2" stroke-dasharray="11.4,8"/>
<line x1="419.9" y1="272.1" x2="524.2" y2="429" stroke="#c6c6c6" stroke-width="2.2" stroke-dasharray="11.4,8" stroke-dashoffset="3.6"/>
<rect x="321.2" y="403.1" width="10.3" height="12.2" rx="1.5" fill="#ed1c24"/>
<line x1="325" y1="407.6" x2="325" y2="410.8" stroke="#fff" stroke-width="0.8"/><line x1="327.6" y1="407.6" x2="327.6" y2="410.8" stroke="#fff" stroke-width="0.8"/>
<line x1="363.7" y1="342.2" x2="363.7" y2="369.7" stroke="#f7941d" stroke-width="2.8"/>
<line x1="358.7" y1="342.2" x2="368.7" y2="342.2" stroke="#f7941d" stroke-width="2.8"/>
<line x1="358.7" y1="369.7" x2="368.7" y2="369.7" stroke="#f7941d" stroke-width="2.8"/>
<circle cx="363.7" cy="355" r="4" fill="none" stroke="#f7941d" stroke-width="2.5"/>
<line x1="386.2" y1="316" x2="386.2" y2="344.8" stroke="#f7941d" stroke-width="2.8"/>
<line x1="381.2" y1="316" x2="391.2" y2="316" stroke="#f7941d" stroke-width="2.8"/>
<line x1="381.2" y1="344.8" x2="391.2" y2="344.8" stroke="#f7941d" stroke-width="2.8"/>
<circle cx="386.2" cy="330.2" r="4" fill="none" stroke="#f7941d" stroke-width="2.5"/>
<line x1="400.7" y1="343.3" x2="400.7" y2="355.7" stroke="#f7941d" stroke-width="2.8"/>
<line x1="395.7" y1="343.3" x2="405.7" y2="343.3" stroke="#f7941d" stroke-width="2.8"/>
<line x1="395.7" y1="355.7" x2="405.7" y2="355.7" stroke="#f7941d" stroke-width="2.8"/>
<circle cx="400.7" cy="349.4" r="4" fill="none" stroke="#f7941d" stroke-width="2.5"/>
<line x1="349" y1="336.2" x2="349" y2="353.5" stroke="#9e2a5a" stroke-width="2.8"/>
<line x1="344.0" y1="336.2" x2="354.0" y2="336.2" stroke="#9e2a5a" stroke-width="2.8"/>
<line x1="344.0" y1="353.5" x2="354.0" y2="353.5" stroke="#9e2a5a" stroke-width="2.8"/>
<polygon points="352.0,339.8 352.0,349.8 343.5,344.8" fill="#9e2a5a" fill-opacity="0.25" stroke="#9e2a5a" stroke-width="2.8" stroke-linejoin="round"/>
<line x1="400.7" y1="313.6" x2="400.7" y2="329.5" stroke="#0f7448" stroke-width="2.8"/>
<line x1="395.7" y1="313.6" x2="405.7" y2="313.6" stroke="#0f7448" stroke-width="2.8"/>
<line x1="395.7" y1="329.5" x2="405.7" y2="329.5" stroke="#0f7448" stroke-width="2.8"/>
<polygon points="395.5,317.84 405.9,317.84 400.7,326.68" fill="#0f7448" fill-opacity="0.25" stroke="#0f7448" stroke-width="2.8" stroke-linejoin="round"/>
<polygon points="400.90,306.40 405.23,313.90 396.57,313.90" fill="#2d3990" stroke="#2d3990" stroke-width="2" stroke-linejoin="round"/>
<polygon points="405.23,308.90 400.90,316.40 396.57,308.90" fill="#2d3990" stroke="#2d3990" stroke-width="2" stroke-linejoin="round"/>
<circle cx="399.29999999999995" cy="311.4" r="0.9" fill="#fff" opacity="0.8"/><circle cx="402.5" cy="311.4" r="0.9" fill="#fff" opacity="0.8"/>
<line x1="422.8" y1="266.5" x2="422.8" y2="283.8" stroke="#9e2a5a" stroke-width="2.8"/>
<line x1="417.8" y1="266.5" x2="427.8" y2="266.5" stroke="#9e2a5a" stroke-width="2.8"/>
<line x1="417.8" y1="283.8" x2="427.8" y2="283.8" stroke="#9e2a5a" stroke-width="2.8"/>
<polygon points="425.8,270.5 425.8,280.5 417.3,275.5" fill="#9e2a5a" fill-opacity="0.25" stroke="#9e2a5a" stroke-width="2.8" stroke-linejoin="round"/>
<line x1="437.7" y1="285.2" x2="437.7" y2="306" stroke="#0f7448" stroke-width="2.8"/>
<line x1="432.7" y1="285.2" x2="442.7" y2="285.2" stroke="#0f7448" stroke-width="2.8"/>
<line x1="432.7" y1="306" x2="442.7" y2="306" stroke="#0f7448" stroke-width="2.8"/>
<polygon points="432.7,290.2 442.7,290.2 437.7,298.7" fill="#0f7448" fill-opacity="0.25" stroke="#0f7448" stroke-width="2.8" stroke-linejoin="round"/>
<polygon points="433.2,307.20000000000005 442.2,307.20000000000005 437.7,299.55" fill="#a08c3c" fill-opacity="0.25" stroke="#a08c3c" stroke-width="2.8" stroke-linejoin="round"/>
<line x1="451.9" y1="315" x2="451.9" y2="326" stroke="#9e2a5a" stroke-width="2.8"/>
<line x1="446.9" y1="315" x2="456.9" y2="315" stroke="#9e2a5a" stroke-width="2.8"/>
<line x1="446.9" y1="326" x2="456.9" y2="326" stroke="#9e2a5a" stroke-width="2.8"/>
<polygon points="455.0,315.2 455.0,325.2 446.5,320.2" fill="#9e2a5a" fill-opacity="0.25" stroke="#9e2a5a" stroke-width="2.8" stroke-linejoin="round"/>
<polygon points="451.0,333.20000000000005 460.0,333.20000000000005 455.5,325.55" fill="#a08c3c" fill-opacity="0.25" stroke="#a08c3c" stroke-width="2.8" stroke-linejoin="round"/>
<line x1="455.5" y1="325" x2="455.5" y2="334.4" stroke="#a08c3c" stroke-width="2.8"/>
<line x1="450.5" y1="325" x2="460.5" y2="325" stroke="#a08c3c" stroke-width="2.8"/>
<line x1="450.5" y1="334.4" x2="460.5" y2="334.4" stroke="#a08c3c" stroke-width="2.8"/>
<line x1="474.4" y1="331.5" x2="474.4" y2="344.3" stroke="#a08c3c" stroke-width="2.8"/>
<line x1="469.4" y1="331.5" x2="479.4" y2="331.5" stroke="#a08c3c" stroke-width="2.8"/>
<line x1="469.4" y1="344.3" x2="479.4" y2="344.3" stroke="#a08c3c" stroke-width="2.8"/>
<polygon points="469.9,341.6 478.9,341.6 474.4,333.95" fill="#a08c3c" fill-opacity="0.25" stroke="#a08c3c" stroke-width="2.8" stroke-linejoin="round"/>
<text x="303.6" y="392.6" font-size="10" font-weight="bold" fill="#ed1c24" stroke="#ed1c24" stroke-width="0.3" textLength="33.7" lengthAdjust="spacingAndGlyphs">LaCrO<tspan font-size="5.8" dy="3">3</tspan><tspan dy="-3"></tspan></text>
<text x="368.1" y="283.6" font-size="10" font-weight="bold" fill="#2d3990" stroke="#2d3990" stroke-width="0.3" textLength="34.5" lengthAdjust="spacingAndGlyphs">LaNiO<tspan font-size="5.8" dy="3">3</tspan><tspan dy="-3"></tspan></text>
<text x="353.5" y="295.8" font-size="10" font-weight="bold" fill="#0f7448" stroke="#0f7448" stroke-width="0.3" textLength="37.1" lengthAdjust="spacingAndGlyphs">LaCoO<tspan font-size="5.8" dy="3">3</tspan><tspan dy="-3"></tspan></text>
<text x="320" y="307.3" font-size="10" font-weight="bold" fill="#f7941d" stroke="#f7941d" stroke-width="0.3" textLength="69.5" lengthAdjust="spacingAndGlyphs">La<tspan font-size="5.8" dy="3">0.5</tspan><tspan dy="-3"></tspan>Ca<tspan font-size="5.8" dy="3">0.5</tspan><tspan dy="-3"></tspan>MnO<tspan font-size="5.8" dy="3">3</tspan><tspan dy="-3"></tspan></text>
<text x="310.5" y="326.1" font-size="10" font-weight="bold" fill="#9e2a5a" stroke="#9e2a5a" stroke-width="0.3" textLength="69.1" lengthAdjust="spacingAndGlyphs">LaMn<tspan font-size="5.8" dy="3">0.5</tspan><tspan dy="-3"></tspan>Cu<tspan font-size="5.8" dy="3">0.5</tspan><tspan dy="-3"></tspan>O<tspan font-size="5.8" dy="3">3</tspan><tspan dy="-3"></tspan></text>
<text x="309.8" y="365.4" font-size="10" font-weight="bold" fill="#f7941d" stroke="#f7941d" stroke-width="0.3" textLength="42.6" lengthAdjust="spacingAndGlyphs">LaMnO<tspan font-size="5.8" dy="3">3+&#948;</tspan><tspan dy="-3"></tspan></text>
<text x="379.6" y="366.5" font-size="10" font-weight="bold" fill="#f7941d" stroke="#f7941d" stroke-width="0.3" textLength="36" lengthAdjust="spacingAndGlyphs">LaMnO<tspan font-size="5.8" dy="3">3</tspan><tspan dy="-3"></tspan></text>
<text x="431.6" y="273.8" font-size="10" font-weight="bold" fill="#9e2a5a" stroke="#9e2a5a" stroke-width="0.3" textLength="103.1" lengthAdjust="spacingAndGlyphs">Ba<tspan font-size="5.8" dy="3">0.5</tspan><tspan dy="-3"></tspan>Sr<tspan font-size="5.8" dy="3">0.5</tspan><tspan dy="-3"></tspan>Co<tspan font-size="5.8" dy="3">0.8</tspan><tspan dy="-3"></tspan>Fe<tspan font-size="5.8" dy="3">0.2</tspan><tspan dy="-3"></tspan>O<tspan font-size="5.8" dy="3">3-&#948;</tspan><tspan dy="-3"></tspan></text>
<text x="448.4" y="298.6" font-size="10" font-weight="bold" fill="#0f7448" stroke="#0f7448" stroke-width="0.3" textLength="73.2" lengthAdjust="spacingAndGlyphs">La<tspan font-size="5.8" dy="3">0.5</tspan><tspan dy="-3"></tspan>Ca<tspan font-size="5.8" dy="3">0.5</tspan><tspan dy="-3"></tspan>CoO<tspan font-size="5.8" dy="3">3-&#948;</tspan><tspan dy="-3"></tspan></text>
<text x="461.4" y="317.8" font-size="10" font-weight="bold" fill="#9e2a5a" stroke="#9e2a5a" stroke-width="0.3" textLength="66.2" lengthAdjust="spacingAndGlyphs">LaMn<tspan font-size="5.8" dy="3">0.5</tspan><tspan dy="-3"></tspan>Ni<tspan font-size="5.8" dy="3">0.5</tspan><tspan dy="-3"></tspan>O<tspan font-size="5.8" dy="3">3</tspan><tspan dy="-3"></tspan></text>
<text x="476.7" y="328.9" font-size="10" font-weight="bold" fill="#a08c3c" stroke="#a08c3c" stroke-width="0.3" textLength="61.5" lengthAdjust="spacingAndGlyphs">La<tspan font-size="5.8" dy="3">1-x</tspan><tspan dy="-3"></tspan>Ca<tspan font-size="5.8" dy="3">x</tspan><tspan dy="-3"></tspan>FeO<tspan font-size="5.8" dy="3">3</tspan><tspan dy="-3"></tspan></text>
</svg></body></html>
